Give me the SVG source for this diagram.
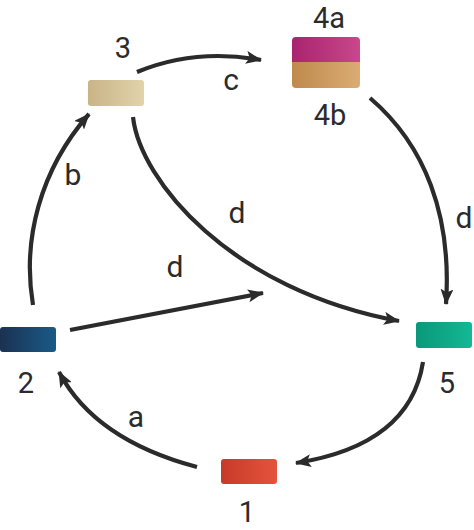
<svg xmlns="http://www.w3.org/2000/svg" width="474" height="530" viewBox="0 0 474 530">
<style>
.edge{fill:none;stroke:#2b2b2b;stroke-width:4.2;marker-end:url(#ah)}
.lbl{font-family:Roboto,"Liberation Sans",sans-serif;fill:#2b2b2b;text-anchor:middle}
.num{font-size:29px}
.let{font-size:30px}
</style>
<defs>
<marker id="ah" viewBox="0 0 16 13" refX="15" refY="6.5" markerWidth="16" markerHeight="13" markerUnits="userSpaceOnUse" orient="auto">
<path d="M0,0 L16,6.5 L0,13 L3.5,6.5 z" fill="#2b2b2b"/>
</marker>
<linearGradient id="g3" x1="0" x2="1" y1="0" y2="0"><stop offset="0" stop-color="#c8b487"/><stop offset="1" stop-color="#e2d3ab"/></linearGradient>
<linearGradient id="g4a" x1="0" x2="1" y1="0" y2="0"><stop offset="0" stop-color="#a82470"/><stop offset="1" stop-color="#c9478a"/></linearGradient>
<linearGradient id="g4b" x1="0" x2="1" y1="0" y2="0"><stop offset="0" stop-color="#bf8a4c"/><stop offset="1" stop-color="#daac74"/></linearGradient>
<linearGradient id="g2" x1="0" x2="1" y1="0" y2="0"><stop offset="0" stop-color="#1b3152"/><stop offset="1" stop-color="#1a5a86"/></linearGradient>
<linearGradient id="g5" x1="0" x2="1" y1="0" y2="0"><stop offset="0" stop-color="#0a987a"/><stop offset="1" stop-color="#14b894"/></linearGradient>
<linearGradient id="g1" x1="0" x2="1" y1="0" y2="0"><stop offset="0" stop-color="#c83a28"/><stop offset="1" stop-color="#e4533c"/></linearGradient>
<clipPath id="c4"><rect x="292" y="37" width="68" height="51" rx="4"/></clipPath>
</defs>
<g id="connectors">
<path class="edge" d="M137,72 Q195,48 261,60"/>
<path class="edge" d="M33,305 C22,240 40,170 89,114"/>
<path class="edge" d="M133,117 C140,180 230,290 399,321"/>
<path class="edge" d="M70,330 L263,293"/>
<path class="edge" d="M370,98 C425,145 452,215 446,304"/>
<path class="edge" d="M423,362 Q410,445 296,463"/>
<path class="edge" d="M197,467 Q95,440 59,372"/>
<text class="lbl let" x="231" y="90">c</text>
<text class="lbl let" x="73" y="185">b</text>
<text class="lbl let" x="237" y="223">d</text>
<text class="lbl let" x="175" y="277">d</text>
<text class="lbl let" x="464" y="228">d</text>
<text class="lbl let" x="136" y="427">a</text>
</g>
<g id="node3">
<rect x="88" y="80" width="56" height="26" rx="3" fill="url(#g3)"/>
<text class="lbl num" x="123" y="58">3</text>
</g>
<g id="node4">
<g clip-path="url(#c4)">
<rect x="292" y="37" width="68" height="25" fill="url(#g4a)"/>
<rect x="292" y="62" width="68" height="26" fill="url(#g4b)"/>
</g>
<text class="lbl num" x="329" y="28">4a</text>
<text class="lbl num" x="330" y="125">4b</text>
</g>
<g id="node2">
<rect x="0" y="327" width="56" height="25" rx="3" fill="url(#g2)"/>
<text class="lbl num" x="26" y="393">2</text>
</g>
<g id="node5">
<rect x="416" y="322" width="56" height="26" rx="3" fill="url(#g5)"/>
<text class="lbl num" x="447" y="393">5</text>
</g>
<g id="node1">
<rect x="221" y="459" width="56" height="25" rx="3" fill="url(#g1)"/>
<text class="lbl num" x="247" y="522">1</text>
</g>
</svg>
